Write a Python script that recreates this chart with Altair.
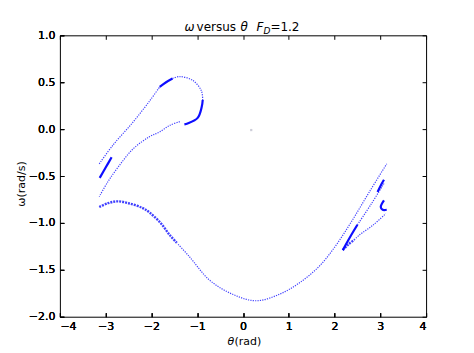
import altair as alt
import pandas as pd

# ---- data (theta in rad, omega in rad/s) ----
main_dense_theta = [-3.14, -2.95, -2.75, -2.5, -2.2, -2.04, -1.8, -1.6, -1.45]
main_dense_omega = [-0.83, -0.79, -0.77, -0.79, -0.84, -0.89, -1.0, -1.13, -1.21]

main_thin_theta = [-1.45, -1.17, -0.73, -0.23, 0.29, 0.8, 1.23, 1.67, 2.03, 2.39, 2.76, 3.14]
main_thin_omega = [-1.21, -1.36, -1.61, -1.76, -1.83, -1.76, -1.64, -1.46, -1.24, -0.97, -0.67, -0.37]

loop_up_theta = [-3.14, -2.84, -2.41, -2.04, -1.82]
loop_up_omega = [-0.37, -0.17, 0.07, 0.30, 0.45]

loop_top_thick_theta = [-1.82, -1.68, -1.54]
loop_top_thick_omega = [0.45, 0.50, 0.54]

loop_top_thin_theta = [-1.54, -1.38, -1.10, -0.91, -0.88]
loop_top_thin_omega = [0.54, 0.56, 0.52, 0.41, 0.31]

loop_end_theta = [-0.88, -0.90, -0.99, -1.21, -1.28]
loop_end_omega = [0.31, 0.24, 0.12, 0.06, 0.05]

loop_low_theta = [-1.38, -1.60, -1.82, -2.04, -2.40, -2.72, -2.95, -3.14]
loop_low_omega = [0.08, 0.04, -0.03, -0.08, -0.21, -0.40, -0.56, -0.72]

left_stub_theta = [-2.87, -3.00, -3.13]
left_stub_omega = [-0.30, -0.41, -0.52]

vee_upper_theta = [2.18, 2.34, 2.50]
vee_upper_omega = [-1.29, -1.15, -1.02]

vee_line_theta = [2.50, 2.80, 3.08]
vee_line_omega = [-1.02, -0.80, -0.58]

vee_lower_theta = [2.18, 2.30, 2.43]
vee_lower_omega = [-1.29, -1.23, -1.18]

vee_tail_theta = [2.43, 2.54, 2.85, 3.12]
vee_tail_omega = [-1.18, -1.13, -1.02, -0.90]

right_stub_theta = [2.94, 3.01, 3.08]
right_stub_omega = [-0.67, -0.60, -0.54]

hook_theta = [3.08, 3.01, 3.05, 3.14]
hook_omega = [-0.76, -0.83, -0.86, -0.86]

lone_theta = [0.18]
lone_omega = [-0.01]

x_ticks = [-4, -3, -2, -1, 0, 1, 2, 3, 4]
y_ticks = [-2.0, -1.5, -1.0, -0.5, 0.0, 0.5, 1.0]

pieces = [
    ("main_dense", "dense", main_dense_theta, main_dense_omega),
    ("main_thin", "thin", main_thin_theta, main_thin_omega),
    ("loop_up", "thin", loop_up_theta, loop_up_omega),
    ("loop_top_thick", "thick", loop_top_thick_theta, loop_top_thick_omega),
    ("loop_top_thin", "thin", loop_top_thin_theta, loop_top_thin_omega),
    ("loop_end", "thick", loop_end_theta, loop_end_omega),
    ("loop_low", "thin", loop_low_theta, loop_low_omega),
    ("left_stub", "thick", left_stub_theta, left_stub_omega),
    ("vee_upper", "thick", vee_upper_theta, vee_upper_omega),
    ("vee_line", "thin", vee_line_theta, vee_line_omega),
    ("vee_lower", "dense", vee_lower_theta, vee_lower_omega),
    ("vee_tail", "thin", vee_tail_theta, vee_tail_omega),
    ("right_stub", "thick", right_stub_theta, right_stub_omega),
    ("hook", "thick", hook_theta, hook_omega),
]

rows = []
for name, kind, th, om in pieces:
    for i, (t, o) in enumerate(zip(th, om)):
        rows.append({"theta": t, "omega": o, "piece": name, "idx": i, "kind": kind})
df = pd.DataFrame(rows)
lone = pd.DataFrame({"theta": lone_theta, "omega": lone_omega})

FONT = "DejaVu Sans"
xscale = alt.Scale(domain=[-4, 4], nice=False, zero=False)
yscale = alt.Scale(domain=[-2, 1], nice=False, zero=False)

ax_common = dict(grid=False, domain=False, tickSize=4, offset=-4, tickColor="black",
                 labelFont=FONT, labelFontSize=11, labelColor="black", title=None)

x_bottom = alt.X("theta:Q", scale=xscale,
                 axis=alt.Axis(orient="bottom", values=x_ticks, format="d", labelPadding=4, **ax_common))
y_left = alt.Y("omega:Q", scale=yscale,
               axis=alt.Axis(orient="left", values=y_ticks, format=".1f", labelPadding=5, **ax_common))
x_top = alt.X("theta:Q", scale=xscale,
              axis=alt.Axis(orient="top", values=x_ticks, labels=False, **ax_common))
y_right = alt.Y("omega:Q", scale=yscale,
                axis=alt.Axis(orient="right", values=y_ticks, labels=False, **ax_common))

BLUE = "#0000ff"

def line_layer(kind, width, opacity, dash=None):
    kw = dict(color=BLUE, strokeWidth=width, opacity=opacity, interpolate="catmull-rom")
    if dash:
        kw["strokeDash"] = dash
    return alt.Chart(df).transform_filter(alt.datum.kind == kind).mark_line(**kw).encode(
        x=x_bottom, y=y_left, detail="piece:N", order="idx:Q")

thin = line_layer("thin", 1.2, 0.75, [1.2, 1.2])
dense = line_layer("dense", 2.4, 0.75, [2, 1])
thick = line_layer("thick", 2.2, 0.95)

dot = alt.Chart(lone).mark_square(size=5, color="#b8b8c8").encode(x=x_top, y=y_right)

def txt(s, x, y, size=12, style="normal", angle=None):
    kw = dict(text=s, font=FONT, fontSize=size, fontStyle=style, align="left",
              baseline="alphabetic", color="black")
    if angle is not None:
        kw.update(angle=angle, align="center", baseline="middle")
    return alt.Chart(lone).mark_text(**kw).encode(x=alt.value(x), y=alt.value(y))

texts = [
    txt("ω", 125, -4, style="italic"),
    txt("versus", 137, -4),
    txt("θ", 181, -4, style="italic"),
    txt("F", 197, -4, style="italic"),
    txt("D", 204, -1, size=9, style="italic"),
    txt("=1.2", 211, -4),
    txt("θ", 168, 310, size=11, style="italic"),
    txt("(rad)", 175, 310, size=11),
    txt("ω(rad/s)", -38, 149, size=11, angle=270),
]

chart = alt.layer(thin, dense, thick, dot, *texts).resolve_axis(
    x="independent", y="independent"
).properties(
    width=367, height=282,
    autosize=alt.AutoSizeParams(type="none"),
    padding={"left": 52, "top": 27, "right": 40, "bottom": 40},
).configure_view(stroke="black", strokeWidth=1)

chart.save("out.html", embed_options={"renderer": "svg", "actions": False})
